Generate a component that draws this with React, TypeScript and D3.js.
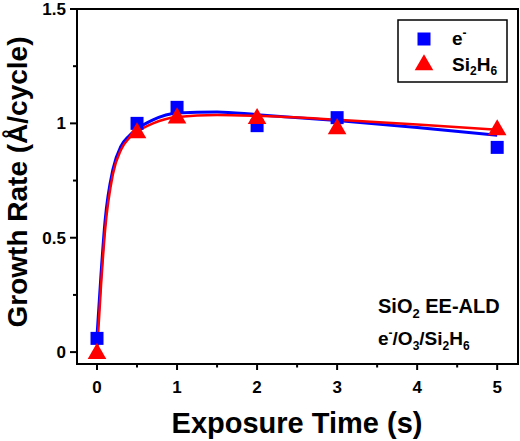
import { line as d3Line, curveMonotoneX, scaleLinear, symbol, symbolTriangle } from "d3"

const exposureTimes = [0, 0.5, 1, 2, 3, 5]
const electronRates = [0.06, 1.0, 1.07, 0.99, 1.025, 0.895]
const disilaneRates = [0.0, 0.965, 1.03, 1.027, 0.983, 0.978]

// fitted curves
const fitTimes = [0, 0.05, 0.1, 0.2, 0.3, 0.4, 0.5, 0.7, 1, 1.5, 2, 3, 4, 5]
const electronFit = [0.07, 0.34, 0.57, 0.8, 0.9, 0.945, 0.975, 1.015, 1.045, 1.05, 1.038, 1.012, 0.982, 0.948]
const disilaneFit = [0.0, 0.29, 0.53, 0.78, 0.885, 0.935, 0.963, 1.0, 1.028, 1.037, 1.033, 1.016, 0.995, 0.972]

const xTicks = [0, 1, 2, 3, 4, 5]
const xMinorTicks = [0.5, 1.5, 2.5, 3.5, 4.5]
const yTicks = [0, 0.5, 1, 1.5]
const yMinorTicks = [0.25, 0.75, 1.25]

const blue = "#0000ff"
const red = "#ff0000"
const font = "'Liberation Sans', Arial, sans-serif"

export default function App() {
  const width = 520
  const height = 441
  const margin = { top: 9, right: 2, bottom: 77, left: 77 }
  const innerWidth = width - margin.left - margin.right
  const innerHeight = height - margin.top - margin.bottom

  const xScale = scaleLinear().domain([-0.25, 5.26]).range([0, innerWidth])
  const yScale = scaleLinear().domain([-0.052, 1.5]).range([innerHeight, 0])

  const fitLine = d3Line<number>()
    .x((_, i) => xScale(fitTimes[i]))
    .y((v) => yScale(v))
    .curve(curveMonotoneX)

  const triangle = symbol().type(symbolTriangle).size(150)()
  const sq = 13

  return (
    <svg width={width} height={height} style={{ position: "absolute", left: 0, top: 0, background: "#fff" }} fontFamily={font}>
      <g transform={`translate(${margin.left},${margin.top})`}>
        <path d={fitLine(electronFit) ?? ""} fill="none" stroke={blue} strokeWidth={3} />
        <path d={fitLine(disilaneFit) ?? ""} fill="none" stroke={red} strokeWidth={2.5} />

        {exposureTimes.map((t, i) => (
          <rect key={`e${t}`} x={xScale(t) - sq / 2} y={yScale(electronRates[i]) - sq / 2} width={sq} height={sq} fill={blue} />
        ))}
        {exposureTimes.map((t, i) => (
          <path key={`s${t}`} d={triangle ?? ""} transform={`translate(${xScale(t)},${yScale(disilaneRates[i]) + 1.5})`} fill={red} />
        ))}

        <rect x={0} y={0} width={innerWidth} height={innerHeight} fill="none" stroke="#000" strokeWidth={2} />

        {xTicks.map((t) => (
          <g key={`xt${t}`}>
            <line x1={xScale(t)} x2={xScale(t)} y1={innerHeight} y2={innerHeight + 6} stroke="#000" strokeWidth={2} />
            <text x={xScale(t)} y={innerHeight + 29} textAnchor="middle" fontSize={17} fontWeight="bold">{t}</text>
          </g>
        ))}
        {xMinorTicks.map((t) => (
          <line key={`xm${t}`} x1={xScale(t)} x2={xScale(t)} y1={innerHeight} y2={innerHeight + 3.5} stroke="#000" strokeWidth={2} />
        ))}
        {yTicks.map((t) => (
          <g key={`yt${t}`}>
            <line x1={-7} x2={0} y1={yScale(t)} y2={yScale(t)} stroke="#000" strokeWidth={2} />
            <text x={-11} y={yScale(t)} dy="0.36em" textAnchor="end" fontSize={17} fontWeight="bold">{t}</text>
          </g>
        ))}
        {yMinorTicks.map((t) => (
          <line key={`ym${t}`} x1={-4} x2={0} y1={yScale(t)} y2={yScale(t)} stroke="#000" strokeWidth={2} />
        ))}

        <g transform={`translate(${innerWidth - 120},20)`}>
          <rect x={0} y={-9} width={109} height={62} fill="#fff" stroke="#000" strokeWidth={1.5} />
          <rect x={26 - sq / 2} y={10 - sq / 2} width={sq} height={sq} fill={blue} />
          <path d={triangle ?? ""} transform="translate(26,36)" fill={red} />
          <text x={54} y={16} fontSize={19} fontWeight="bold">e<tspan dy={-8} fontSize={12}>-</tspan></text>
          <text x={54} y={42} fontSize={19} fontWeight="bold">
            Si<tspan dy={4} fontSize={12}>2</tspan><tspan dy={-4}>H</tspan><tspan dy={4} fontSize={12}>6</tspan>
          </text>
        </g>

        <text x={301} y={304} fontSize={20} fontWeight="bold">
          SiO<tspan dy={5} fontSize={13}>2</tspan><tspan dy={-5}> EE-ALD</tspan>
        </text>
        <text x={301} y={336} fontSize={19} fontWeight="bold">
          e<tspan dy={-8} fontSize={12}>-</tspan><tspan dy={8}>/O</tspan><tspan dy={5} fontSize={12}>3</tspan>
          <tspan dy={-5}>/Si</tspan><tspan dy={5} fontSize={12}>2</tspan><tspan dy={-5}>H</tspan><tspan dy={5} fontSize={12}>6</tspan>
        </text>
      </g>

      <text x={297} y={433} textAnchor="middle" fontSize={29} fontWeight="bold">Exposure Time (s)</text>
      <text transform="translate(27,182) rotate(-90)" textAnchor="middle" fontSize={28} fontWeight="bold">Growth Rate (Å/cycle)</text>
    </svg>
  )
}
